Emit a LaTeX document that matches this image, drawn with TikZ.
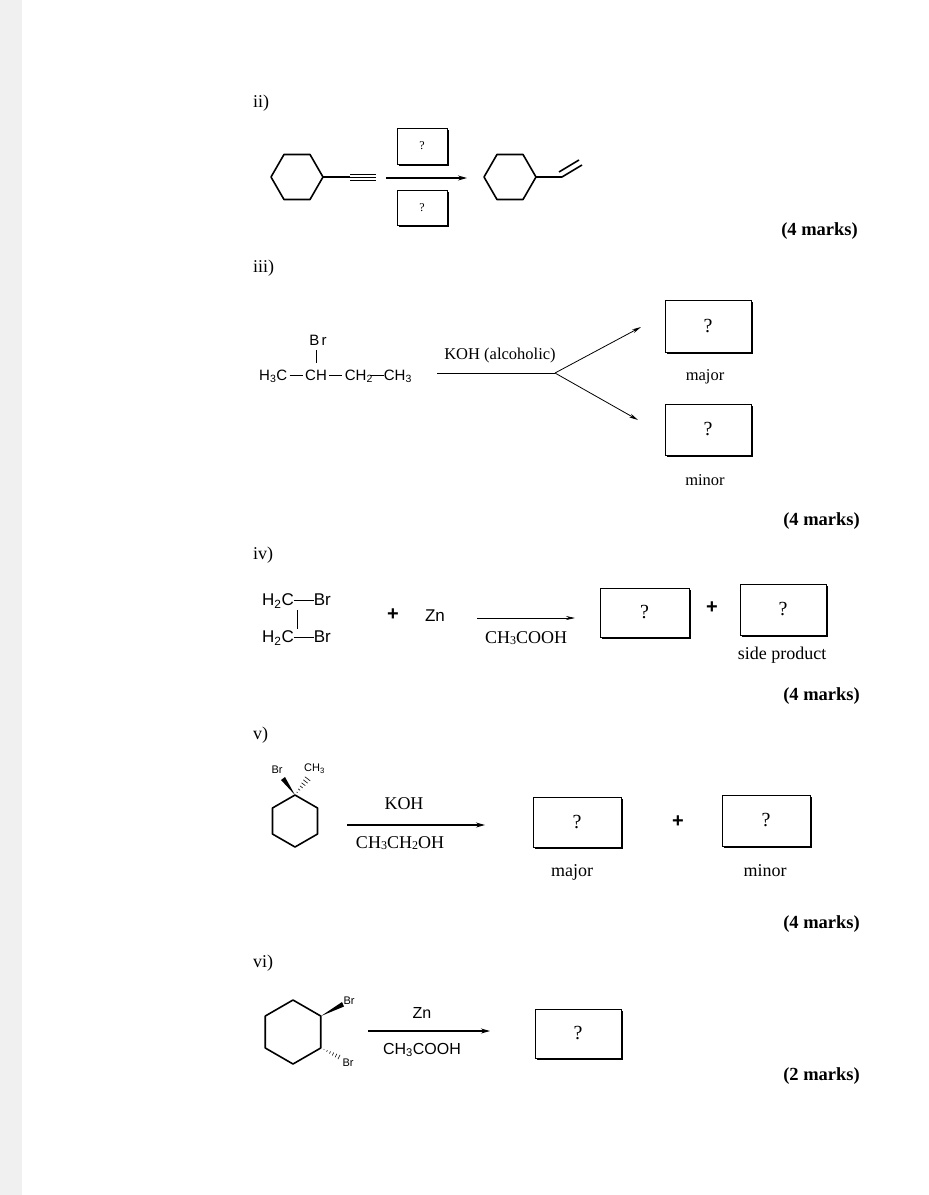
\documentclass[tikz,border=0pt]{standalone}
\usepackage{fontspec}
\setmainfont{Liberation Serif}
\setsansfont{Liberation Sans}
\usetikzlibrary{arrows.meta,calc}
\newcommand{\sbs}[1]{\textsubscript{#1}}
\begin{document}
\begin{tikzpicture}[x=1pt,y=-1pt,
  lbl/.style={inner sep=0pt,font=\fontsize{18}{20}\selectfont},
  mk/.style={inner sep=0pt,anchor=east,font=\bfseries\fontsize{18.5}{20}\selectfont},
  chem/.style={inner sep=0pt,font=\sffamily\fontsize{15}{17}\selectfont},
  bond/.style={line width=1.6pt,line join=round},
  thin/.style={line width=0.8pt},
  arr/.style={line width=1.2pt,-{Stealth[length=9pt,width=5pt]}},
]
\useasboundingbox (0,0) rectangle (929,1195);
\fill[white] (0,0) rectangle (929,1195);
\fill[black!6] (0,0) rectangle (22,1195);
\newcommand{\qb}[5]{% name, x1,y1,x2,y2
  \draw[line width=0.7pt] (#2,#3) rectangle (#4,#5);
  \draw[line width=2pt] (#2+2,#5+0.5) -- (#4+0.5,#5+0.5) -- (#4+0.5,#3+2);
  \node[lbl,font=\fontsize{20}{22}\selectfont] (#1) at ({(#2+#4)/2},{(#3+#5)/2}) {?};}
% ---- ii
\node[lbl,anchor=west] (t2) at (253,103) {ii)};
\draw[bond] (323,177) -- ++(120:26) -- ++(180:26) -- ++(240:26) -- ++(300:26) -- ++(0:26) -- cycle;
\draw[bond] (323,177) -- (350,177);
\draw[line width=0.9pt] (350,174) -- (376,174) (350,177) -- (376,177) (350,180) -- (376,180);
\draw[arr] (386,178) -- (467,178);
\draw[line width=0.7pt] (397,128) rectangle (447,164);
\draw[line width=2pt] (399,165) -- (448,165) -- (448,130);
\node[lbl,font=\fontsize{12}{13}\selectfont] (q1) at (422,146) {?};
\draw[line width=0.7pt] (397,190) rectangle (447,225);
\draw[line width=2pt] (399,226) -- (448,226) -- (448,192);
\node[lbl,font=\fontsize{12}{13}\selectfont] (q2) at (422,208) {?};
\draw[bond] (536,177) -- ++(120:26) -- ++(180:26) -- ++(240:26) -- ++(300:26) -- ++(0:26) -- cycle;
\draw[bond] (536,177) -- (562,177) -- (582,165);
\draw[bond] (559,172) -- (579,160);
\node[mk] (m1) at (858,231) {(4 marks)};
% ---- iii
\node[lbl,anchor=west] (t3) at (253,268) {iii)};
\node[chem,anchor=west] (s3) at (259,376) {H\sbs{3}C\,\raisebox{4pt}{\rule{13pt}{0.6pt}}\,CH\,\raisebox{4pt}{\rule{13pt}{0.6pt}}\,CH\sbs{2}\kern-3pt\raisebox{4pt}{\rule{14pt}{0.6pt}}CH\sbs{3}};
\node[chem] (br3) at (318,340) {B\,r};
\draw[line width=0.6pt] (316,350) -- (316,363);
\node[lbl,font=\fontsize{16.5}{18}\selectfont] (k3) at (500,356) {KOH (alcoholic)};
\coordinate (j3) at (555,373);
\draw[thin] (437,373) -- (j3);
\draw[thin,-{Stealth[length=9pt,width=4pt]}] (j3) -- (641,327);
\draw[thin,-{Stealth[length=9pt,width=4pt]}] (j3) -- (638,420);
\qb{b3a}{665}{300}{751}{352}
\qb{b3b}{665}{404}{751}{455}
\node[lbl,font=\fontsize{16.5}{18}\selectfont] (mj3) at (705,377) {major};
\node[lbl,font=\fontsize{16.5}{18}\selectfont] (mn3) at (705,480) {minor};
\node[mk] (m2) at (860,521) {(4 marks)};
% ---- iv
\node[lbl,anchor=west] (t4) at (253,555) {iv)};
\node[chem,anchor=west,font=\sffamily\fontsize{17}{19}\selectfont] (a4) at (262,601) {H\sbs{2}C\raisebox{5pt}{\rule{20pt}{0.7pt}}Br};
\node[chem,anchor=west,font=\sffamily\fontsize{17}{19}\selectfont] (b4) at (262,638) {H\sbs{2}C\raisebox{5pt}{\rule{20pt}{0.7pt}}Br};
\draw[line width=0.7pt] (297,610) -- (297,629);
\node[chem,font=\sffamily\bfseries\fontsize{20}{20}\selectfont] (p4) at (393,615) {+};
\node[chem,font=\sffamily\fontsize{17}{19}\selectfont] (zn4) at (435,616) {Zn};
\draw[line width=0.7pt,-{Stealth[length=9pt,width=4pt]}] (477,618) -- (575,618);
\node[lbl] (c4) at (526,638) {CH\raisebox{-1pt}{\fontsize{12}{12}\selectfont 3}COOH};
\qb{b4a}{600}{588}{689}{637}
\node[chem,font=\sffamily\bfseries\fontsize{20}{20}\selectfont] (p4b) at (712,608) {+};
\qb{b4b}{740}{584}{826}{635}
\node[lbl] (sp4) at (782,655) {side product};
\node[mk] (m3) at (860,696) {(4 marks)};
% ---- v
\node[lbl,anchor=west] (t5) at (253,735) {v)};
\draw[bond] (295,795) -- ++(30:26) -- ++(90:26) -- ++(150:26) -- ++(210:26) -- ++(270:26) -- cycle;
\fill (295,795) -- (281,780) -- (285,777) -- cycle;
\foreach \t in {0.15,0.3,...,1.0}
  \draw[line width=0.6pt] ($(295,795)!\t!(309,777)$) ++(-3*\t,-2.3*\t) -- ++(6*\t,4.6*\t);
\node[chem,font=\sffamily\fontsize{11}{12}\selectfont] (br5) at (277,770) {Br};
\node[chem,font=\sffamily\fontsize{11}{12}\selectfont,anchor=west] (ch5) at (304,769) {CH\sbs{3}};
\draw[arr] (347,825) -- (485,825);
\node[lbl] (k5) at (404,804) {KOH};
\node[lbl] (e5) at (400,843) {CH\raisebox{-1pt}{\fontsize{12}{12}\selectfont 3}CH\raisebox{-1pt}{\fontsize{12}{12}\selectfont 2}OH};
\qb{b5a}{533}{797}{621}{847}
\node[chem,font=\sffamily\bfseries\fontsize{20}{20}\selectfont] (p5) at (678,822) {+};
\qb{b5b}{722}{795}{810}{846}
\node[lbl] (mj5) at (572,872) {major};
\node[lbl] (mn5) at (765,871) {minor};
\node[mk] (m4) at (860,924) {(4 marks)};
% ---- vi
\node[lbl,anchor=west] (t6) at (253,963) {vi)};
\draw[bond] (293,1000) -- ++(30:32) -- ++(90:32) -- ++(150:32) -- ++(210:32) -- ++(270:32) -- cycle;
\fill (321,1016) -- (342,1002) -- (344,1006.5) -- cycle;
\foreach \t in {0.15,0.3,...,1.0}
  \draw[line width=0.6pt] ($(321,1048)!\t!(341,1058)$) ++(1.2*\t,-2.4*\t) -- ++(-2.4*\t,4.8*\t);
\node[chem,font=\sffamily\fontsize{11}{12}\selectfont] (br6a) at (349,1001) {Br};
\node[chem,font=\sffamily\fontsize{11}{12}\selectfont] (br6b) at (348,1063) {Br};
\draw[arr] (368,1031) -- (490,1031);
\node[chem,font=\sffamily\fontsize{16}{18}\selectfont] (zn6) at (422,1013) {Zn};
\node[chem,font=\sffamily\fontsize{16}{18}\selectfont] (c6) at (422,1050) {CH\sbs{3}COOH};
\qb{b6}{535}{1009}{621}{1058}
\node[mk] (m5) at (860,1076) {(2 marks)};
\end{tikzpicture}
\end{document}
